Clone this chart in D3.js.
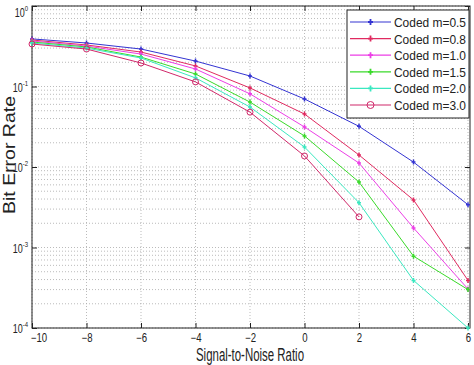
<!DOCTYPE html>
<html><head><meta charset="utf-8">
<script src="https://cdn.jsdelivr.net/npm/d3@7"></script>
<style>
body{margin:0;background:#fff;}
svg{display:block;}
text{font-family:"Liberation Sans",Arial,sans-serif;}
</style></head><body>
<svg id="c" width="474" height="365"></svg>
<script>
const snr = [-10, -8, -6, -4, -2, 0, 2, 4, 6];
const seriesNames = ["Coded m=0.5", "Coded m=0.8", "Coded m=1.0", "Coded m=1.5", "Coded m=2.0", "Coded m=3.0"];
const ber_m05 = [0.39, 0.347, 0.292, 0.207, 0.135, 0.070, 0.032, 0.0115, 0.0034];
const ber_m08 = [0.378, 0.328, 0.268, 0.18, 0.096, 0.0455, 0.0141, 0.0039, 0.00039];
const ber_m10 = [0.367, 0.318, 0.253, 0.165, 0.081, 0.0314, 0.0112, 0.00175, 0.000305];
const ber_m15 = [0.357, 0.31, 0.232, 0.143, 0.064, 0.0243, 0.0065, 0.00078, 0.0003];
const ber_m20 = [0.347, 0.30, 0.226, 0.128, 0.0556, 0.0177, 0.0036, 0.00039, 0.0001];
const ber_m30 = [0.337, 0.292, 0.196, 0.114, 0.048, 0.0137, 0.0024];
const xTicks = [-10, -8, -6, -4, -2, 0, 2, 4, 6];
const yTicks = [1e-4, 1e-3, 1e-2, 1e-1, 1];
const yExps = ["-4", "-3", "-2", "-1", "0"];
const colors = ["#3434d2", "#e02a60", "#ec3ee6", "#3ada2a", "#3ae8c0", "#d0286a"];
const markers = ["plus", "plus", "plus", "plus", "plus", "circle"];
const allSeries = [ber_m05, ber_m08, ber_m10, ber_m15, ber_m20, ber_m30];

const svg = d3.select("#c");
const L = 32, R = 468, T = 6, B = 328;
const x = d3.scaleLinear().domain([-10, 6]).range([L, R]);
const y = d3.scaleLog().domain([1e-4, 1]).range([B, T]);

// grid
const g = svg.append("g");
const minor = [];
for (let e = -4; e < 0; e++) for (let k = 1; k <= 9; k++) minor.push(k * Math.pow(10, e));
g.selectAll("line.yg").data(minor.concat([1])).enter().append("line")
  .attr("x1", L).attr("x2", R).attr("y1", d => y(d)).attr("y2", d => y(d))
  .attr("stroke", "#aaa").attr("stroke-width", 0.8).attr("stroke-dasharray", "1,2");
g.selectAll("line.xg").data(xTicks).enter().append("line")
  .attr("x1", d => x(d)).attr("x2", d => x(d)).attr("y1", T).attr("y2", B)
  .attr("stroke", "#aaa").attr("stroke-width", 0.8).attr("stroke-dasharray", "1,2");

// frame
svg.append("rect").attr("x", L).attr("y", T).attr("width", R - L + 2).attr("height", B - T)
  .attr("fill", "none").attr("stroke", "#222").attr("stroke-width", 1);

// x axis
const xa = svg.append("g").attr("transform", `translate(0,${B})`)
  .call(d3.axisBottom(x).tickValues(xTicks).tickSizeInner(-5).tickSizeOuter(0).tickFormat(d3.format("d")));
xa.select(".domain").remove();
xa.selectAll("line").attr("stroke", "#222");
xa.selectAll("text").attr("font-size", 12).attr("fill", "#222").attr("y", 14).attr("dy", 0)
  .attr("x", (d, i) => i === 0 ? 8 : 0)
  .attr("transform", "scale(0.8,1)");
// top ticks
svg.append("g").attr("transform", `translate(0,${T})`)
  .call(d3.axisTop(x).tickValues(xTicks).tickSizeInner(-5).tickSizeOuter(0).tickFormat(""))
  .call(a => a.select(".domain").remove()).selectAll("line").attr("stroke", "#222");

// y axis
const ya = svg.append("g").attr("transform", `translate(${L},0)`)
  .call(d3.axisLeft(y).tickValues(yTicks).tickSizeInner(-5).tickSizeOuter(0).tickFormat(""));
ya.select(".domain").remove();
ya.selectAll("line").attr("stroke", "#222");
svg.append("g").attr("transform", `translate(${R + 2},0)`)
  .call(d3.axisRight(y).tickValues(yTicks).tickSizeInner(-5).tickSizeOuter(0).tickFormat(""))
  .call(a => a.select(".domain").remove()).selectAll("line").attr("stroke", "#222");
const yl = svg.append("g");
yTicks.forEach((v, i) => {
  const by = Math.max(y(v) + 5, 17);
  const t = yl.append("text").attr("transform", `translate(28,${by}) scale(0.75,1)`)
    .attr("text-anchor", "end").attr("font-size", 12).attr("fill", "#222");
  t.append("tspan").text("10");
  t.append("tspan").attr("dy", -6).attr("font-size", 8).text(yExps[i]);
});

// series
const line = d3.line().x((d, i) => x(snr[i])).y(d => y(d));
allSeries.forEach((s, si) => {
  svg.append("path").datum(s).attr("d", line).attr("fill", "none")
    .attr("stroke", colors[si]).attr("stroke-width", 1);
  const pts = svg.append("g");
  s.forEach((v, i) => {
    const px = x(snr[i]), py = y(v);
    if (markers[si] === "circle") {
      pts.append("circle").attr("cx", px).attr("cy", py).attr("r", 3)
        .attr("fill", "none").attr("stroke", colors[si]).attr("stroke-width", 1);
    } else {
      pts.append("path").attr("d", `M${px - 2},${py}H${px + 2}M${px},${py - 2.5}V${py + 2.5}`)
        .attr("stroke", colors[si]).attr("stroke-width", 1.5);
    }
  });
});

// legend
const lg = svg.append("g");
lg.append("rect").attr("x", 347).attr("y", 10).attr("width", 122).attr("height", 108)
  .attr("fill", "#fff").attr("stroke", "#222").attr("stroke-width", 1);
seriesNames.forEach((n, i) => {
  const ly = 22 + i * 16.6;
  lg.append("line").attr("x1", 350).attr("x2", 391).attr("y1", ly).attr("y2", ly)
    .attr("stroke", colors[i]).attr("stroke-width", 1.2);
  if (markers[i] === "circle") {
    lg.append("circle").attr("cx", 370.5).attr("cy", ly).attr("r", 3.5).attr("fill", "none")
      .attr("stroke", colors[i]).attr("stroke-width", 1);
  } else {
    lg.append("path").attr("d", `M${368},${ly}H${373}M${370.5},${ly - 3}V${ly + 3}`)
      .attr("stroke", colors[i]).attr("stroke-width", 1.8);
  }
  lg.append("text").attr("x", 394).attr("y", ly + 5).attr("font-size", 13.5)
    .attr("textLength", 72).attr("lengthAdjust", "spacingAndGlyphs")
    .attr("fill", "#222").text(n);
});

// axis titles
svg.append("text").attr("x", 250).attr("y", 361).attr("text-anchor", "middle")
  .attr("font-size", 17.5).attr("textLength", 108).attr("lengthAdjust", "spacingAndGlyphs")
  .attr("fill", "#222").text("Signal-to-Noise Ratio");
svg.append("text").attr("transform", "translate(15,155) rotate(-90)").attr("text-anchor", "middle")
  .attr("font-size", 17).attr("textLength", 118).attr("lengthAdjust", "spacingAndGlyphs")
  .attr("fill", "#222").text("Bit Error Rate");
</script></body></html>
